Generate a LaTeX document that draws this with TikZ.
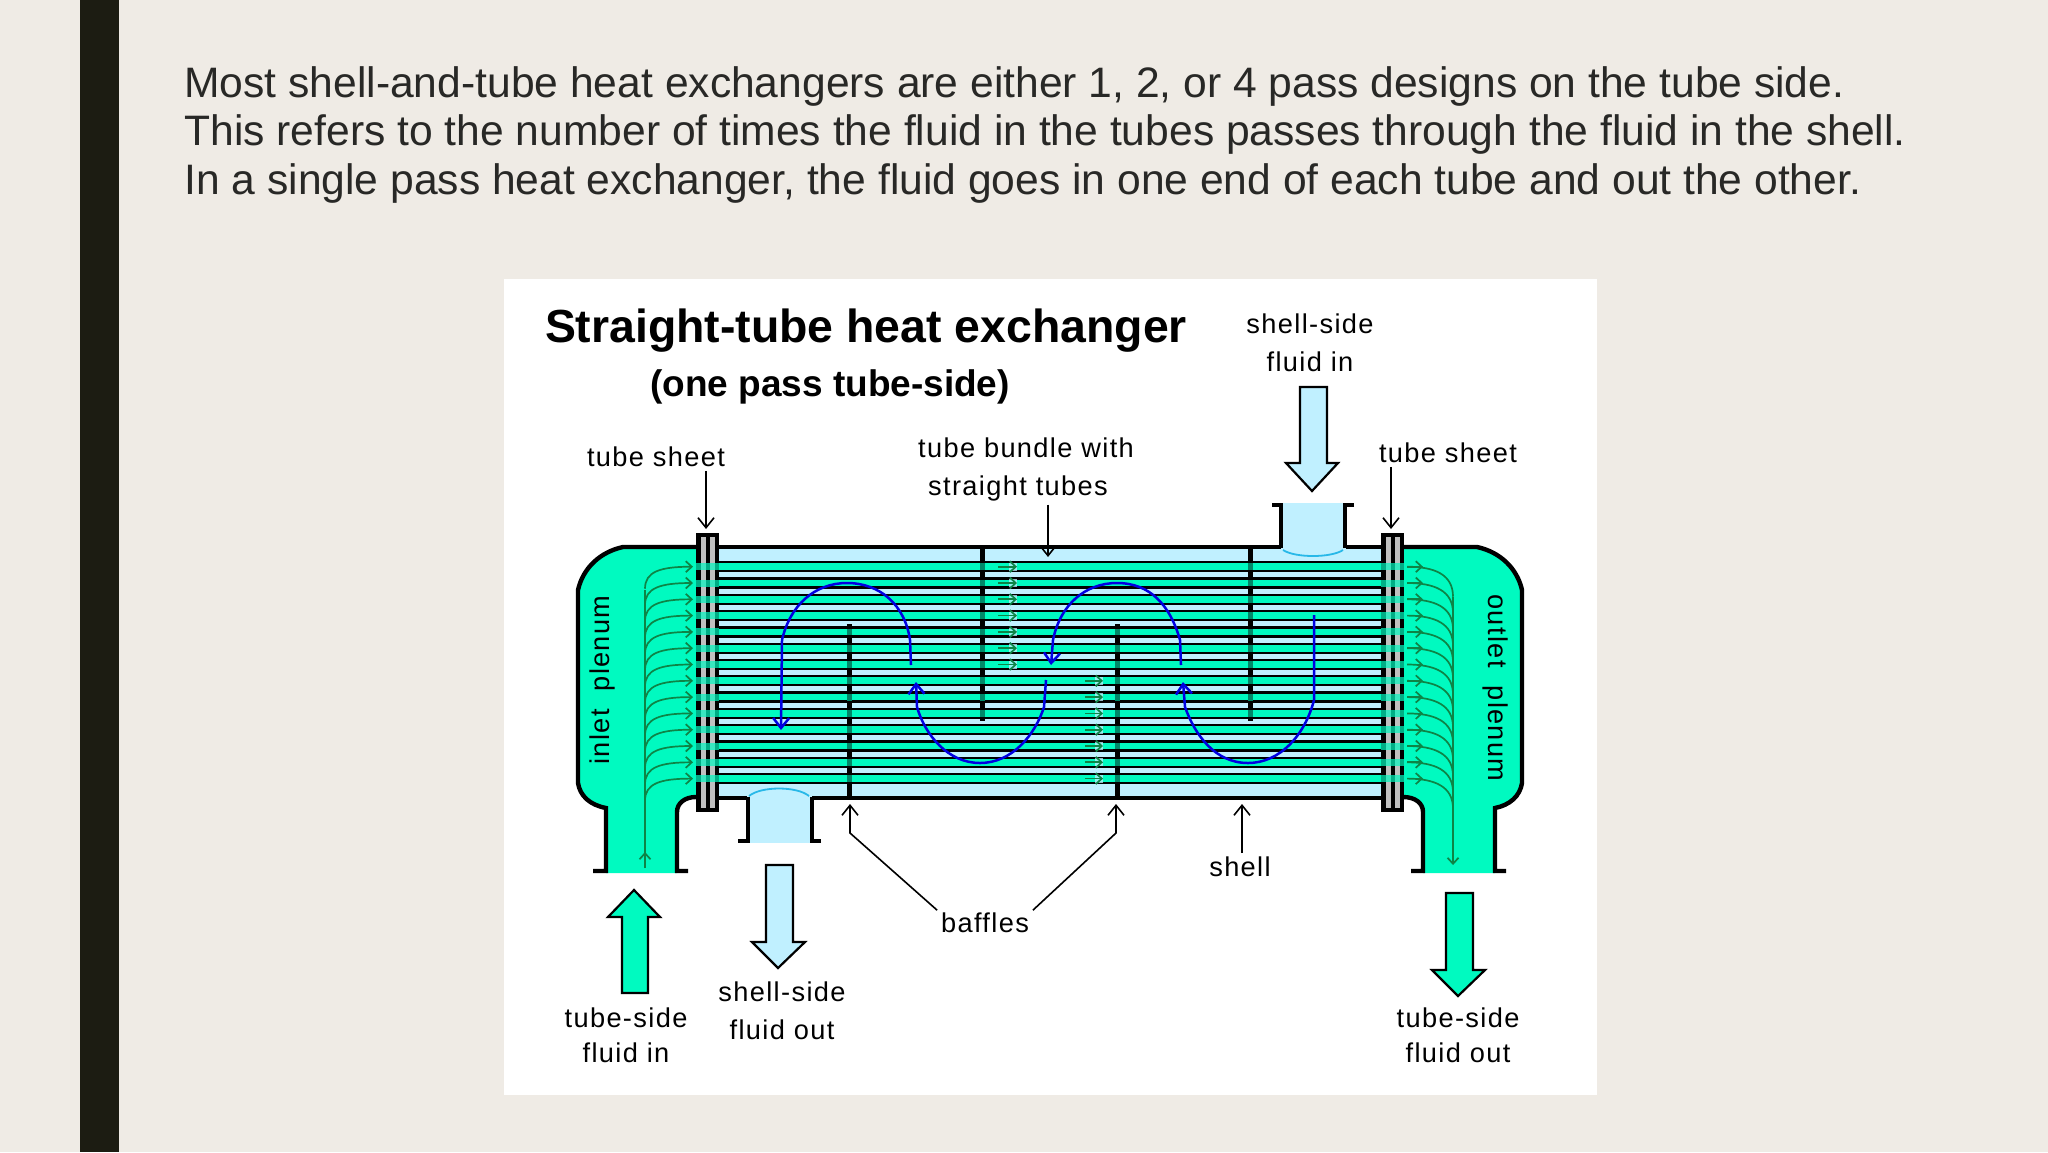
\documentclass[tikz,border=0pt]{standalone}
\usepackage{fontspec}
\setmainfont{Liberation Sans}
\newfontfamily\labelfont[LetterSpace=5]{Liberation Sans}
\usepackage{tikz}
\usetikzlibrary{arrows.meta}
\definecolor{slide}{RGB}{239,235,229}
\definecolor{bar}{RGB}{28,28,18}
\definecolor{ink}{RGB}{40,40,38}
\definecolor{teal}{RGB}{0,250,192}
\definecolor{pale}{RGB}{192,240,255}
\definecolor{sheet}{RGB}{192,192,192}
\definecolor{flow}{RGB}{0,0,225}
\definecolor{vein}{RGB}{14,132,70}
\definecolor{rim}{RGB}{40,184,232}
\tikzset{
  wall/.style={draw=black,line width=2.2pt,line join=miter},
  tubeline/.style={draw=black,line width=1.15pt},
  baffle/.style={draw=black,line width=2.5pt},
  leader/.style={draw=black,line width=.8pt,-{Straight Barb[length=5pt,width=8pt]}},
  swirl/.style={draw=flow,line width=1.25pt,-{Straight Barb[length=5pt,width=8pt]}},
  veinline/.style={draw=vein,line width=.85pt},
  veinarr/.style={veinline,-{Straight Barb[length=3pt,width=5.5pt]}},
  bigarr/.style={draw=black,line width=1.1pt,line join=miter},
  lbl/.style={font=\fontsize{13.6pt}{19pt}\selectfont\labelfont,align=center,inner sep=0pt,outer sep=2pt},
  lbltight/.style={lbl,font=\fontsize{13.6pt}{17.5pt}\selectfont\labelfont},
  body/.style={font=\fontsize{21.3pt}{24.3pt}\selectfont,text=ink,align=left,inner sep=0pt,anchor=north west},
}
\begin{document}
\begin{tikzpicture}[x=.5pt,y=-.5pt]
  \useasboundingbox (0,0) rectangle (2048,1152);
  \fill[slide] (0,0) rectangle (2048,1152);
  \fill[bar] (80,0) rectangle (119,1152);
  \fill[white] (504,279) rectangle (1597,1095);

  \node[body] (intro) at (184,66) {Most shell-and-tube heat exchangers are either 1, 2, or 4 pass designs on the tube side.\\
    This refers to the number of times the fluid in the tubes passes through the fluid in the shell.\\
    In a single pass heat exchanger, the fluid goes in one end of each tube and out the other.};
  \node[font=\fontsize{23.2pt}{24pt}\selectfont\bfseries,inner sep=0pt] (title) at (866,331) {Straight-tube heat exchanger};
  \node[font=\fontsize{18.5pt}{24pt}\selectfont\bfseries,inner sep=0pt] (subtitle) at (830,387) {(one pass tube-side)};

  \fill[pale] (719,547) rectangle (1381,798);
  \fill[pale] (1282,503) rectangle (1344,550);
  \fill[pale] (749,795) rectangle (810,843);
  \draw[rim,line width=.9pt] (1283,550) .. controls (1295,558) and (1331,558) .. (1343,550);
  \draw[rim,line width=.9pt] (749,796) .. controls (761,786) and (797,786) .. (809,796);

  \fill[teal] (696,547) -- (623,547) .. controls (600,552) and (583,568) .. (578,590) -- (578,783)
    .. controls (580,796) and (590,805) .. (606,808) -- (606,873) -- (677,873) -- (677,812)
    .. controls (677,803) and (685,797) .. (696,797) -- cycle;
  \fill[teal] (1403,547) -- (1477,547) .. controls (1500,552) and (1517,568) .. (1522,590) -- (1522,783)
    .. controls (1520,796) and (1510,805) .. (1495,808) -- (1495,873) -- (1423,873) -- (1423,812)
    .. controls (1423,803) and (1415,797) .. (1403,797) -- cycle;

  \foreach \i in {0,...,13} {
    \pgfmathsetmacro\rowy{566.7+16.3*\i}
    \fill[teal] (719,\rowy-4.5) rectangle (1381,\rowy+4.5);
    \draw[tubeline] (719,\rowy-4.5) -- (1381,\rowy-4.5);
    \draw[tubeline] (719,\rowy+4.5) -- (1381,\rowy+4.5);
  }

  \draw[baffle] (849,624) -- (849,798);
  \draw[baffle] (982,547) -- (982,721);
  \draw[baffle] (1117,624) -- (1117,798);
  \draw[baffle] (1250,547) -- (1250,721);
  \foreach \i in {0,...,13} {
    \pgfmathsetmacro\rowy{566.7+16.3*\i}
    \ifnum\i<10
      \fill[teal,opacity=.55] (979.5,\rowy-3.4) rectangle (984.5,\rowy+3.4);
      \fill[teal,opacity=.55] (1247.5,\rowy-3.4) rectangle (1252.5,\rowy+3.4);
    \fi
    \ifnum\i>3
      \fill[teal,opacity=.55] (846.5,\rowy-3.4) rectangle (851.5,\rowy+3.4);
      \fill[teal,opacity=.55] (1114.5,\rowy-3.4) rectangle (1119.5,\rowy+3.4);
    \fi
  }

  \foreach \i in {0,...,6} {
    \pgfmathsetmacro\rowy{566.7+16.3*\i}
    \fill[pale,opacity=.75] (1009,\rowy-4) rectangle (1017,\rowy+4);
    \draw[veinarr] (998,\rowy) -- (1017,\rowy);
  }
  \foreach \i in {7,...,13} {
    \pgfmathsetmacro\rowy{566.7+16.3*\i}
    \fill[pale,opacity=.75] (1095,\rowy-4) rectangle (1103,\rowy+4);
    \draw[veinarr] (1085,\rowy) -- (1103,\rowy);
  }

  \draw[wall] (719,547) -- (1281,547) (1346,547) -- (1381,547);
  \draw[wall] (719,798) -- (747,798) (812,798) -- (1381,798);
  \draw[wall] (1272,505) -- (1281,505) -- (1281,548);
  \draw[wall] (1354,505) -- (1345,505) -- (1345,548);
  \draw[wall] (738,841) -- (748,841) -- (748,797);
  \draw[wall] (821,841) -- (812,841) -- (812,797);
  \draw[wall] (696,547) -- (623,547) .. controls (600,552) and (583,568) .. (578,590) -- (578,783)
    .. controls (580,796) and (590,805) .. (606,808) -- (606,871) -- (593,871);
  \draw[wall] (688,871) -- (677,871) -- (677,812) .. controls (677,803) and (685,797) .. (696,797);
  \draw[wall] (1403,547) -- (1477,547) .. controls (1500,552) and (1517,568) .. (1522,590) -- (1522,783)
    .. controls (1520,796) and (1510,805) .. (1495,808) -- (1495,871) -- (1506,871);
  \draw[wall] (1411,871) -- (1423,871) -- (1423,812) .. controls (1423,803) and (1415,797) .. (1403,797);

  \foreach \sx in {696,1381} {
    \fill[black] (\sx,533) rectangle (\sx+23,812);
    \fill[sheet] (\sx+4.5,537) rectangle (\sx+9.5,808);
    \fill[sheet] (\sx+13.5,537) rectangle (\sx+18.5,808);
    \foreach \i in {0,...,13} {
      \pgfmathsetmacro\rowy{566.7+16.3*\i}
      \fill[teal,opacity=.7] (\sx,\rowy-3.5) rectangle (\sx+23,\rowy+3.5);
    }
  }

  \draw[veinline] (645,868) -- (645,590);
  \draw[veinarr] (645,868) -- (645,852);
  \draw[veinarr] (1453,597) -- (1453,865);
  \foreach \i in {0,...,13} {
    \pgfmathsetmacro\rowy{566.7+16.3*\i}
    \draw[veinarr] (645,\rowy+22) .. controls (645,\rowy+5) and (660,\rowy) .. (693,\rowy);
    \draw[veinline] (1407,\rowy) .. controls (1435,\rowy) and (1453,\rowy+8) .. (1453,\rowy+30);
    \draw[veinarr] (1407,\rowy) -- (1423,\rowy);
  }

  \draw[swirl] (911,665) -- (910,640) .. controls (905,605) and (880,583) .. (847,583)
    .. controls (815,583) and (790,605) .. (782,640) -- (781,730);
  \draw[swirl] (1046,680) -- (1044,707) .. controls (1035,735) and (1012,763) .. (980,763)
    .. controls (948,763) and (925,735) .. (917,707) -- (916,682);
  \draw[swirl] (1181,665) -- (1180,640) .. controls (1170,605) and (1150,583) .. (1117,583)
    .. controls (1085,583) and (1060,605) .. (1053,640) -- (1051,665);
  \draw[swirl] (1314,615) -- (1314,700) .. controls (1305,735) and (1280,763) .. (1248,763)
    .. controls (1215,763) and (1195,735) .. (1185,707) -- (1183,682);

  \draw[bigarr,fill=teal] (622,993) -- (622,917) -- (608,917) -- (634,890) -- (660,917) -- (648,917) -- (648,993) -- cycle;
  \draw[bigarr,fill=pale] (766,865) -- (766,942) -- (752,942) -- (778,968) -- (805,942) -- (793,942) -- (793,865) -- cycle;
  \draw[bigarr,fill=teal] (1446,893) -- (1446,970) -- (1432,970) -- (1458,996) -- (1485,970) -- (1473,970) -- (1473,893) -- cycle;
  \draw[bigarr,fill=pale] (1300,387) -- (1300,463) -- (1286,463) -- (1312,491) -- (1338,463) -- (1327,463) -- (1327,387) -- cycle;

  \node[lbl] (sheetL) at (656,457) {tube sheet};
  \node[lbl] (sheetR) at (1448,453) {tube sheet};
  \node[lbl] (bundle) at (1026,469) {tube bundle with\\straight tubes\hspace*{8pt}};
  \node[lbl] (shellin) at (1310,343) {shell-side\\fluid in};
  \node[lbltight] (tubein) at (626,1035) {tube-side\\fluid in};
  \node[lbl] (shellout) at (782,1011) {shell-side\\fluid out};
  \node[lbltight] (tubeout) at (1458,1035) {tube-side\\fluid out};
  \node[lbl] (baffles) at (985,923) {baffles};
  \node[lbl] (shell) at (1240,867) {shell};
  \node[lbl,rotate=90] (inlet) at (602,680) {inlet\ \ plenum};
  \node[lbl,rotate=-90] (outlet) at (1496,688) {outlet\ \ plenum};

  \coordinate (sheetLtip) at (706,529);
  \coordinate (sheetRtip) at (1391,529);
  \coordinate (bundletip) at (1048,557);
  \coordinate (baffleLtip) at (850,804);
  \coordinate (baffleLbend) at (850,833);
  \coordinate (baffleRtip) at (1116,804);
  \coordinate (baffleRbend) at (1116,833);
  \coordinate (shelltip) at (1242,804);
  \draw[leader] (sheetL.south -| sheetLtip) -- (sheetLtip);
  \draw[leader] (sheetR.south -| sheetRtip) -- (sheetRtip);
  \draw[leader] (bundle.south -| bundletip) -- (bundletip);
  \draw[leader] (baffles.165) -- (baffleLbend) -- (baffleLtip);
  \draw[leader] (baffles.15) -- (baffleRbend) -- (baffleRtip);
  \draw[leader] (shell.north -| shelltip) -- (shelltip);
\end{tikzpicture}
\end{document}
